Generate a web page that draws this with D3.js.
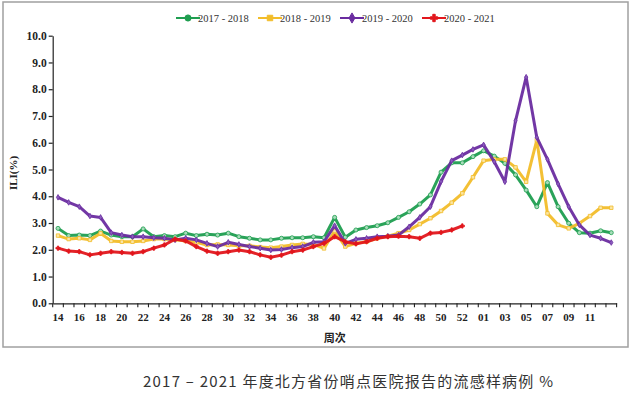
<!DOCTYPE html>
<html>
<head>
<meta charset="utf-8">
<script src="https://cdn.jsdelivr.net/npm/d3@7"></script>
<style>
  body { margin: 0; background: #fff; }
  svg { display: block; }
</style>
</head>
<body>
<svg id="chart"></svg>
<script>
// weeks on the x axis (season runs from week 14 to week 13 of the next year)
const weeks = ["14","15","16","17","18","19","20","21","22","23","24","25","26","27","28","29","30","31","32","33",
  "34","35","36","37","38","39","40","41","42","43","44","45","46","47","48","49","50","51","52","53",
  "01","02","03","04","05","06","07","08","09","10","11","12","13"];
const tickLabels = ["14","16","18","20","22","24","26","28","30","32","34","36","38","40","42","44","46","48","50","52",
  "01","03","05","07","09","11"];
const yTicks = [0, 1, 2, 3, 4, 5, 6, 7, 8, 9, 10];

const seasons = ["2017 - 2018", "2018 - 2019", "2019 - 2020", "2020 - 2021"];

const ili1718 = [2.80,2.53,2.55,2.53,2.70,2.55,2.49,2.49,2.78,2.49,2.53,2.49,2.62,2.53,2.58,2.55,2.62,2.49,2.43,2.37,
  2.37,2.43,2.45,2.45,2.49,2.45,3.21,2.47,2.74,2.83,2.90,3.01,3.21,3.42,3.71,4.05,4.90,5.25,5.25,5.48,
  5.70,5.50,5.23,4.80,4.23,3.61,4.51,3.61,2.99,2.64,2.62,2.71,2.64];
const ili1819 = [2.53,2.40,2.43,2.37,2.62,2.33,2.30,2.30,2.33,2.40,2.40,2.37,2.33,2.28,2.18,2.20,2.18,2.15,2.15,2.10,
  2.08,2.12,2.18,2.22,2.20,2.05,2.70,2.12,2.24,2.30,2.43,2.51,2.62,2.74,2.96,3.18,3.45,3.76,4.11,4.71,
  5.33,5.38,5.38,5.08,4.54,6.10,3.36,2.93,2.80,2.99,3.26,3.57,3.57];
const ili1920 = [3.96,3.77,3.61,3.26,3.21,2.64,2.55,2.49,2.49,2.45,2.43,2.37,2.43,2.37,2.24,2.12,2.28,2.20,2.12,2.06,
  1.99,2.01,2.08,2.12,2.28,2.30,2.90,2.24,2.39,2.43,2.49,2.51,2.55,2.86,3.21,3.61,4.55,5.33,5.54,5.75,
  5.92,5.29,4.54,6.82,8.45,6.20,5.38,4.46,3.61,2.93,2.55,2.43,2.27];
const ili2021 = [2.06,1.95,1.93,1.81,1.87,1.93,1.90,1.87,1.93,2.06,2.18,2.40,2.33,2.12,1.95,1.87,1.93,1.99,1.93,1.81,
  1.72,1.80,1.93,1.99,2.12,2.24,2.49,2.30,2.22,2.30,2.43,2.49,2.51,2.49,2.43,2.62,2.65,2.74,2.89];

const caption = "2017 – 2021 年度北方省份哨点医院报告的流感样病例 %";

const width = 633, height = 407;
const colors = ["#1f9e50", "#f2bd2a", "#6a2ca0", "#e2171d"];
const fills = ["#a6dcb9", "#fbe6a6", "#8a5cbc", "#e2171d"];
const symbols = [d3.symbolCircle, d3.symbolSquare, d3.symbolDiamond, d3.symbolCross];
const markerSize = [13, 12, 9, 10];
const series = [ili1718, ili1819, ili1920, ili2021];

const svg = d3.select("#chart")
  .attr("width", width)
  .attr("height", height);

svg.append("rect").attr("width", width).attr("height", height).attr("fill", "#fff");

// grey frame round the chart
svg.append("rect")
  .attr("x", 3).attr("y", 2)
  .attr("width", 625).attr("height", 345)
  .attr("fill", "none")
  .attr("stroke", "#a0a0a0")
  .attr("stroke-width", 1.5);

// scales
const x = d3.scaleBand().domain(weeks).range([52.7, 616.6]);
const y = d3.scaleLinear().domain([0, 10]).range([303.3, 35.7]);
const cx = w => x(w) + x.bandwidth() / 2;

const labelFont = "'Liberation Serif', 'Times New Roman', serif";

// y axis
const yAxis = svg.append("g")
  .attr("transform", `translate(${x.range()[0]},0)`)
  .call(d3.axisLeft(y).tickValues(yTicks).tickFormat(d3.format(".1f")).tickSize(4).tickSizeOuter(0));
yAxis.select(".domain").attr("stroke", "#222").attr("stroke-width", 1.2);
yAxis.selectAll(".tick line").attr("stroke", "#222").attr("stroke-width", 1.2);
yAxis.selectAll(".tick text")
  .attr("x", -6)
  .style("font-family", labelFont)
  .style("font-size", "11.5px")
  .style("font-weight", "bold")
  .attr("fill", "#222");

// x axis: labels at every other week, ticks at band edges
const xAxis = svg.append("g")
  .attr("transform", `translate(0,${y(0)})`)
  .call(d3.axisBottom(x).tickValues(tickLabels).tickSize(0).tickPadding(10));
xAxis.select(".domain").attr("stroke", "#222").attr("stroke-width", 1.2);
xAxis.selectAll(".tick text")
  .style("font-family", labelFont)
  .style("font-size", "11px")
  .style("font-weight", "bold")
  .attr("fill", "#222");
xAxis.selectAll(".edge")
  .data(weeks.concat(["end"]))
  .enter().append("line")
  .attr("class", "edge")
  .attr("x1", (d, i) => i < weeks.length ? x(d) : x.range()[1])
  .attr("x2", (d, i) => i < weeks.length ? x(d) : x.range()[1])
  .attr("y1", 0).attr("y2", 4)
  .attr("stroke", "#222").attr("stroke-width", 1.1);

// axis titles
svg.append("text")
  .attr("transform", "translate(17,173) rotate(-90)")
  .attr("text-anchor", "middle")
  .style("font-family", labelFont)
  .style("font-size", "11px")
  .style("font-weight", "bold")
  .attr("fill", "#222")
  .text("ILI(%)");

svg.append("text")
  .attr("x", (x.range()[0] + x.range()[1]) / 2)
  .attr("y", 342)
  .attr("text-anchor", "middle")
  .style("font-family", "'Noto Sans CJK SC', sans-serif")
  .style("font-size", "11px")
  .style("font-weight", "bold")
  .attr("fill", "#222")
  .text("周次");

// lines and markers
const line = d3.line()
  .x((d, i) => cx(weeks[i]))
  .y(d => y(d));

series.forEach((vals, s) => {
  const g = svg.append("g");
  g.append("path")
    .datum(vals)
    .attr("d", line)
    .attr("fill", "none")
    .attr("stroke", colors[s])
    .attr("stroke-width", 3)
    .attr("stroke-linejoin", "round")
    .attr("opacity", 0.95);

  g.selectAll(".pt")
    .data(vals)
    .enter().append("path")
    .attr("class", "pt")
    .attr("transform", (d, i) => `translate(${cx(weeks[i])},${y(d)})`)
    .attr("d", d3.symbol().type(symbols[s]).size(markerSize[s]))
    .attr("fill", fills[s])
    .attr("stroke", colors[s])
    .attr("stroke-width", 0.8);
});

// legend
const legend = svg.selectAll(".legend")
  .data(seasons)
  .enter().append("g")
  .attr("class", "legend")
  .attr("transform", (d, i) => `translate(${176 + i * 82},18)`);

legend.append("line")
  .attr("x1", 0).attr("x2", 24)
  .attr("stroke", (d, i) => colors[i])
  .attr("stroke-width", 2);

legend.append("path")
  .attr("transform", "translate(12,0)")
  .attr("d", (d, i) => d3.symbol().type(symbols[i]).size(30)())
  .attr("fill", (d, i) => colors[i])
  .attr("stroke", (d, i) => colors[i]);

legend.append("text")
  .attr("x", 22)
  .attr("dy", "0.35em")
  .style("font-family", labelFont)
  .style("font-size", "10.5px")
  .attr("fill", "#333")
  .text(d => d);

// caption under the chart
svg.append("text")
  .attr("x", 348)
  .attr("y", 387)
  .attr("text-anchor", "middle")
  .attr("textLength", 410)
  .attr("lengthAdjust", "spacing")
  .style("font-family", "'Noto Sans CJK SC', sans-serif")
  .style("font-size", "15px")
  .attr("fill", "#333")
  .text(caption);
</script>
</body>
</html>
